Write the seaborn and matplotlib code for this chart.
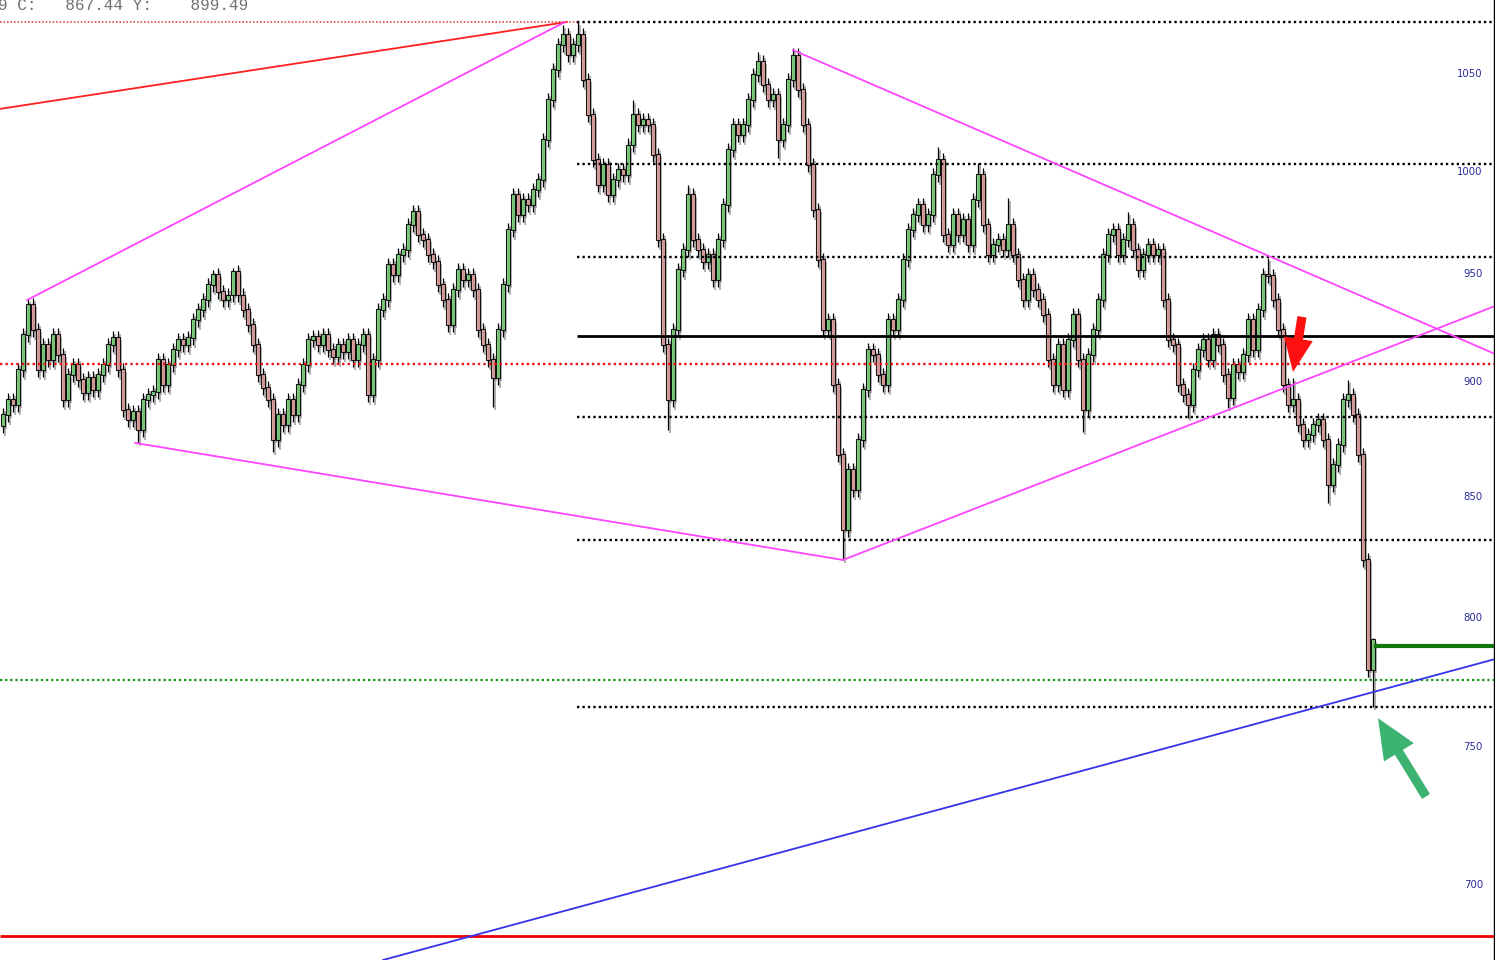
import numpy as np
import pandas as pd
import matplotlib
matplotlib.use("Agg")
import matplotlib.pyplot as plt
import seaborn as sns
from matplotlib.ticker import NullLocator

# ---------------- data ----------------
closes = [
    885.0, 891.6, 889.4, 905.1, 921.1, 935.0, 923.4, 905.1, 916.5, 909.6,
    921.1, 911.9, 891.6, 902.8, 907.3, 900.6, 894.8, 901.5, 896.1, 902.8,
    907.3, 916.5, 919.7, 905.1, 887.2, 882.8, 886.3, 878.4, 891.6, 893.8,
    895.2, 909.6, 898.3, 907.3, 914.2, 918.8, 916.5, 919.7, 928.0, 932.7,
    937.3, 944.4, 949.1, 941.1, 937.3, 939.6, 950.6, 939.6, 932.7, 925.7,
    916.5, 902.8, 897.0, 891.6, 874.0, 885.0, 880.6, 891.6, 885.0, 898.3,
    907.3, 918.8, 920.2, 916.5, 921.1, 914.2, 911.0, 916.5, 913.3, 918.8,
    909.6, 916.5, 921.1, 893.8, 909.6, 932.7, 937.3, 953.9, 949.1, 958.7,
    961.1, 973.1, 979.5, 968.3, 965.9, 958.7, 955.3, 944.4, 937.3, 925.7,
    942.0, 951.5, 946.8, 949.1, 942.0, 923.4, 916.5, 909.6, 901.5, 923.4,
    944.4, 970.7, 987.9, 978.0, 985.4, 983.0, 990.3, 995.3, 1015.4, 1035.9,
    1051.6, 1064.8, 1070.1, 1059.4, 1064.8, 1070.1, 1046.3, 1028.2, 1005.3, 992.8,
    1002.8, 987.9, 995.3, 1000.3, 997.8, 1012.8, 1028.2, 1023.0, 1025.6, 1023.0,
    1007.8, 965.9, 916.5, 891.6, 923.4, 951.5, 961.1, 987.9, 965.9, 961.1,
    955.3, 958.7, 946.8, 965.9, 983.0, 1010.3, 1023.0, 1017.9, 1023.0, 1035.9,
    1049.0, 1055.8, 1043.7, 1035.9, 1038.5, 1015.4, 1023.0, 1046.3, 1059.4, 1041.1,
    1023.0, 1002.8, 980.5, 956.3, 923.4, 928.0, 898.3, 867.4, 835.5, 861.0,
    852.4, 874.0, 896.1, 914.2, 911.9, 902.8, 898.3, 928.0, 923.4, 937.3,
    956.3, 970.7, 978.0, 983.0, 973.1, 978.0, 997.8, 1005.3, 968.3, 963.5,
    978.0, 968.3, 975.6, 963.5, 985.4, 997.8, 973.1, 958.7, 963.5, 965.9,
    961.1, 973.1, 958.7, 946.8, 937.3, 949.1, 942.0, 937.3, 930.3, 909.6,
    898.3, 916.5, 896.1, 918.8, 930.3, 909.6, 887.2, 911.9, 923.4, 937.3,
    958.7, 968.3, 970.7, 958.7, 965.9, 973.1, 961.1, 951.5, 958.7, 963.5,
    958.7, 961.1, 937.3, 918.8, 916.5, 898.3, 893.8, 889.4, 905.1, 914.2,
    918.8, 909.6, 921.1, 916.5, 902.8, 892.5, 907.3, 904.2, 911.9, 928.0,
    914.2, 932.7, 949.1, 948.6, 937.3, 923.4, 898.3, 889.4, 891.6, 880.6,
    874.0, 876.2, 880.6, 882.8, 874.0, 854.5, 863.1, 871.8, 891.6, 893.8,
    885.0, 867.4, 823.1, 779.0, 790.8,
]
first_open = 880.0

peak_highs = {5: 938.0, 42: 951.5, 46: 952.5, 82: 982.9, 112: 1075.5, 115: 1077.1,
              126: 1035.9, 137: 992.8, 151: 1061.0, 158: 1063.2, 187: 1011.8,
              195: 1003.8, 201: 986.4, 225: 979.5, 253: 957.2, 258: 901.5,
              269: 900.6, 274: 791.6}
trough_lows = {27: 872.7, 54: 868.7, 73: 890.7, 98: 888.5, 133: 878.4, 155: 1006.3,
               168: 823.1, 216: 877.5, 237: 883.7, 245: 888.1, 265: 846.8, 274: 764.7}

# horizontal levels
fib_levels = [1077.1, 1003.3, 957.7, 884.1, 831.4, 764.7]
pivot_level = 920.6
red_dotted_level = 907.9
green_dotted_level = 775.1
red_solid_level = 682.0
green_stop_level = 788.4
top_red_dotted = 1077.1

# trendlines (index, price)
trend_red = [(-0.6, 1031.3), (112.8, 1077.1)]
trend_mag_up = [(4.8, 937.3), (112.4, 1077.1)]
trend_mag_low = [(26.4, 872.7), (168.0, 823.1)]
trend_mag_rise = [(168.0, 823.1), (298.4, 934.5)]
trend_mag_fall = [(158.0, 1062.1), (298.4, 912.4)]
trend_blue = [(76.0, 673.9), (298.4, 783.3)]

yticks = [1050, 1000, 950, 900, 850, 800, 750, 700]
header = "9 C:   867.44 Y:    899.49"

# ---------------- figure ----------------
sns.set_theme(style="white")
plt.rcParams["font.family"] = ["DejaVu Sans"]

W, H = 1495, 960
fig = plt.figure(figsize=(W / 100, H / 100), dpi=100)
ax = fig.add_axes([0, 0, 1494 / 1495, 1])
ax.set_yscale("log")
XMIN, XMAX = -0.6, 298.2
ax.set_xlim(XMIN, XMAX)
ax.set_ylim(673.9, 1089.0)

c = np.array(closes)
o = np.concatenate([[first_open], c[:-1]])
WICK = 0.0035
hi = np.maximum(o, c) * (1 + WICK)
lo = np.minimum(o, c) * (1 - WICK)
for k, v in peak_highs.items():
    hi[k] = max(v, max(o[k], c[k]))
for k, v in trough_lows.items():
    lo[k] = min(v, min(o[k], c[k]))
idx = np.arange(len(c))
up = c >= o

# shadow
sdx, sdy = 0.4, 0.9985
ax.vlines(idx + sdx, lo * sdy, hi * sdy, color="#8a8a8a", lw=1.3, alpha=0.7, zorder=1)
ax.bar(idx + sdx, (np.maximum(o, c) - np.minimum(o, c)) * sdy + 0.3,
       bottom=np.minimum(o, c) * sdy, width=0.7, color="#8a8a8a", alpha=0.6,
       linewidth=0, zorder=1)
# candles
ax.vlines(idx, lo, hi, color="black", lw=0.9, zorder=2)
body_h = np.abs(c - o) + 0.3
ax.bar(idx[up], body_h[up], bottom=np.minimum(o, c)[up], width=0.7,
       color="#7fd67f", edgecolor="black", linewidth=0.8, alpha=0.9, zorder=2)
ax.bar(idx[~up], body_h[~up], bottom=np.minimum(o, c)[~up], width=0.7,
       color="#e6a4a4", edgecolor="black", linewidth=0.8, alpha=0.9, zorder=2)

# horizontal levels
start_fib = 114.8
dot = (0, (1, 1.3))
for lv in fib_levels:
    ax.hlines(lv, start_fib, XMAX, color="black", lw=1.7, linestyles=[dot], zorder=3)
ax.hlines(top_red_dotted, XMIN, start_fib, color="#e03030", lw=1.1, linestyles=[dot], zorder=3)
ax.hlines(pivot_level, start_fib, XMAX, color="black", lw=2.0, zorder=3)
ax.hlines(red_dotted_level, XMIN, XMAX, color="#ee1111", lw=1.7, linestyles=[dot], zorder=3)
ax.hlines(green_dotted_level, XMIN, XMAX, color="#119911", lw=1.6, linestyles=[dot], zorder=3)
ax.hlines(red_solid_level, XMIN, XMAX, color="#ee0000", lw=2.0, zorder=3)
ax.hlines(green_stop_level, 274.2, XMAX, color="#117711", lw=3.0, zorder=3)

# trendlines
def tline(pts, color, lw):
    df = pd.DataFrame(pts, columns=["x", "y"])
    sns.lineplot(data=df, x="x", y="y", ax=ax, color=color, lw=lw, zorder=3,
                 estimator=None, sort=False, legend=False)

tline(trend_red, "#ff2020", 1.3)
tline(trend_mag_up, "#ff44ff", 1.3)
tline(trend_mag_low, "#ff44ff", 1.3)
tline(trend_mag_rise, "#ff44ff", 1.3)
tline(trend_mag_fall, "#ff44ff", 1.3)
tline(trend_blue, "#3333ee", 1.3)

# arrows
ax.annotate("", xy=(258.0, 904.2), xytext=(259.8, 929.5),
            arrowprops=dict(arrowstyle="simple,head_length=1.1,head_width=0.95,tail_width=0.3",
                            mutation_scale=22, color="#ff1010", lw=0, shrinkA=0, shrinkB=0),
            zorder=5)
ax.annotate("", xy=(275.0, 760.5), xytext=(284.6, 731.3),
            arrowprops=dict(arrowstyle="simple,head_length=1.2,head_width=1.05,tail_width=0.28",
                            mutation_scale=24, color="#3cb371", lw=0, shrinkA=0, shrinkB=0),
            zorder=5)

# axes styling
ax.set_xlabel("")
ax.set_ylabel("")
ax.set_xticks([])
ax.yaxis.tick_right()
ax.set_yticks(yticks, [str(t) for t in yticks])
ax.yaxis.set_minor_locator(NullLocator())
ax.tick_params(axis="y", length=0, pad=-8, labelsize=7.3, labelcolor="#2a2a9a")
for lab in ax.get_yticklabels():
    lab.set_horizontalalignment("right")
for s in ["top", "left", "bottom"]:
    ax.spines[s].set_visible(False)
ax.spines["right"].set_color("black")
ax.spines["right"].set_linewidth(1.0)
ax.grid(False)

fig.text(-2 / W, 1 - 6 / H, header, family="Liberation Mono", fontsize=11.5,
         color="#707070", ha="left", va="center")

fig.savefig("out.png", dpi=100)
